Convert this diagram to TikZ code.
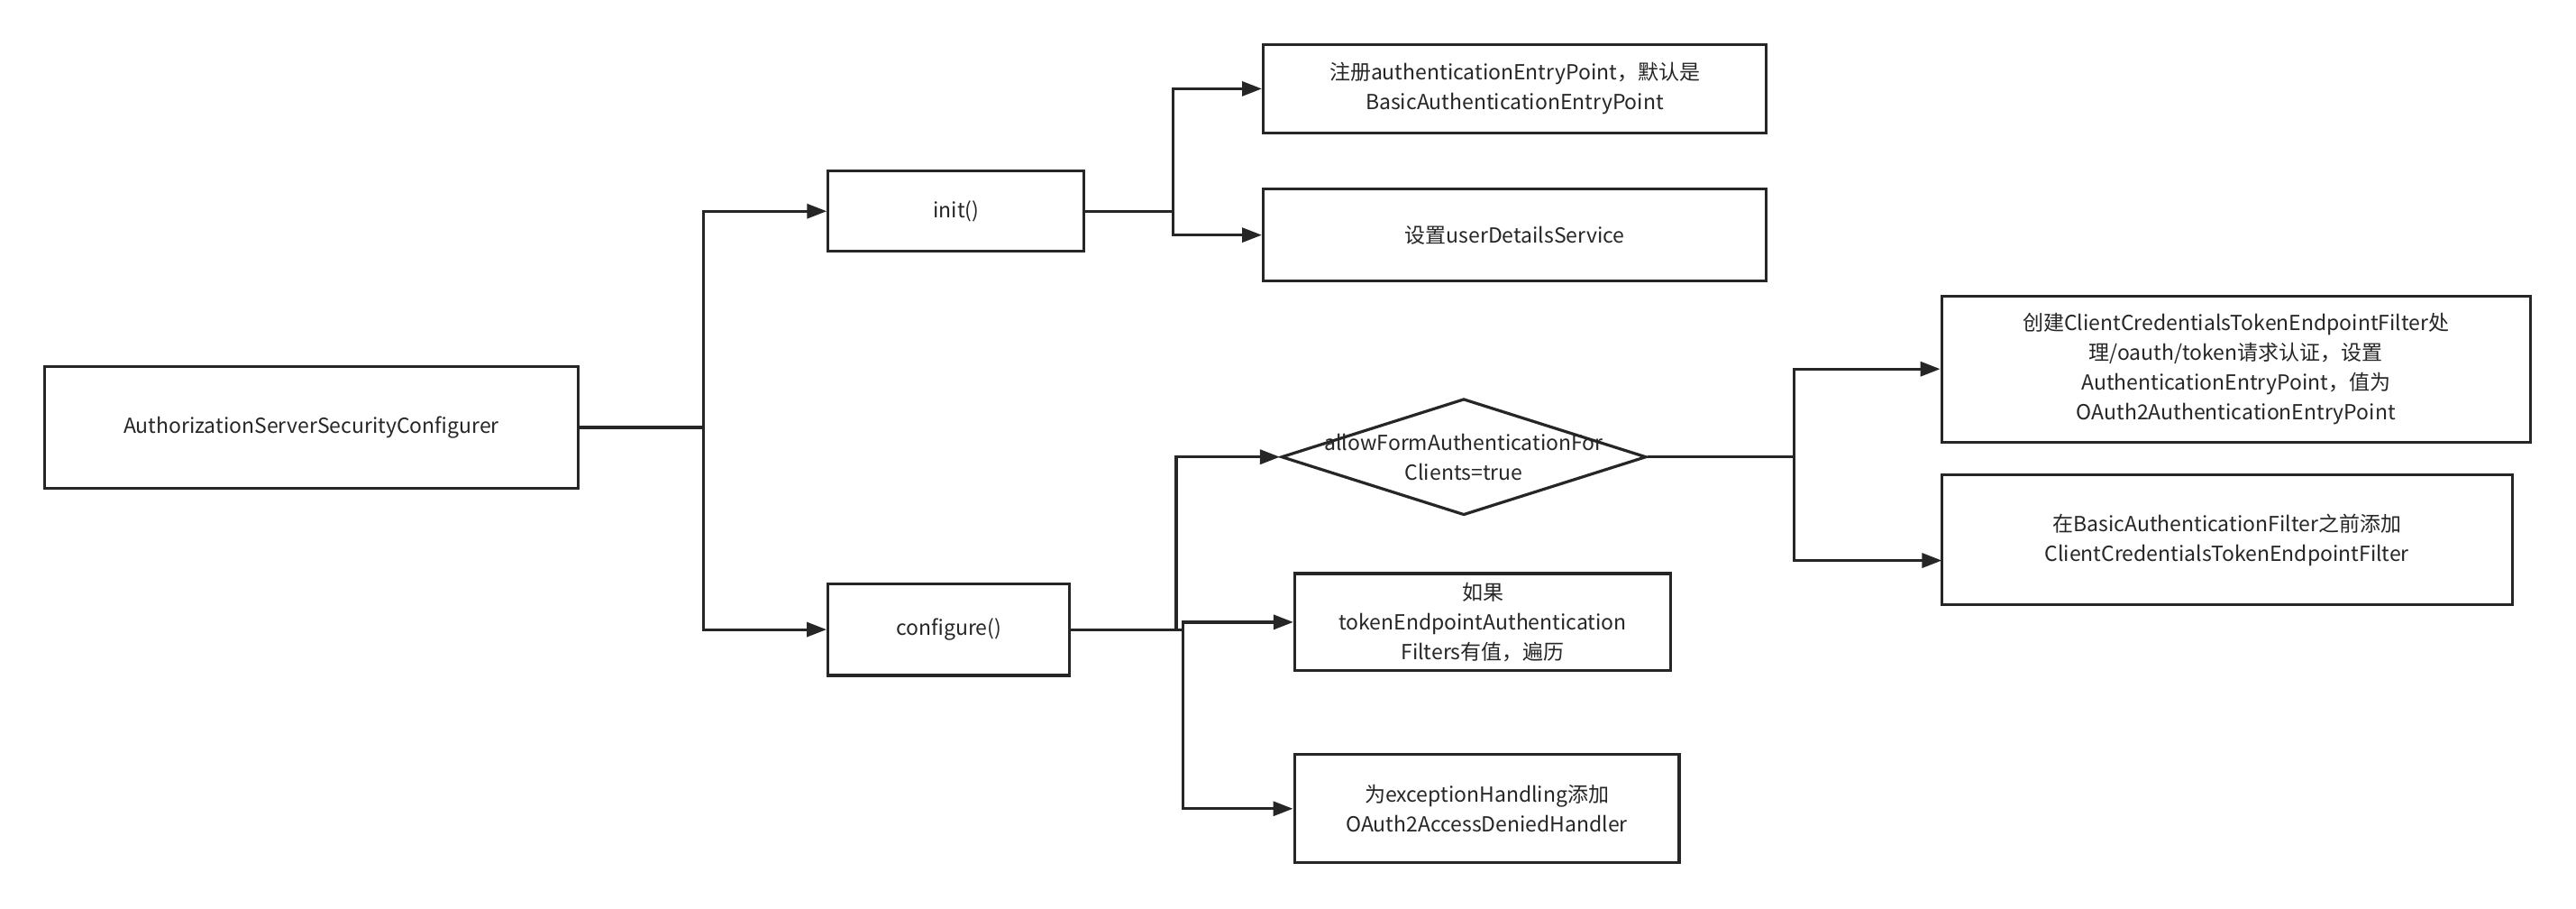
\documentclass[tikz,border=0pt]{standalone}
\usepackage{fontspec}
\setmainfont{Noto Sans CJK SC}
\usetikzlibrary{shapes.geometric,arrows.meta}
\begin{document}
\begin{tikzpicture}[x=1.823pt,y=-1.823pt,
  bx/.style={draw=black!85,line width=3.2pt,align=center,inner sep=0pt,font=\fontsize{23}{33}\selectfont,text=black!85},
  ar/.style={draw=black!85,line width=3.2pt,-{Triangle[length=22pt,width=16pt]}},
  ln/.style={draw=black!85,line width=3.2pt}]
\useasboundingbox[fill=white] (0,0) rectangle (1568,553);
\node[bx,minimum width=592pt,minimum height=135pt] (m) at (189.5,260) {AuthorizationServerSecurityConfigurer};
\node[bx,minimum width=284pt,minimum height=89pt] (i) at (582,128.5) {init()};
\node[bx,minimum width=268pt,minimum height=102pt] (c) at (577.5,383) {configure()};
\node[bx,minimum width=558pt,minimum height=98pt] (b1) at (922,54) {注册authenticationEntryPoint，默认是\\BasicAuthenticationEntryPoint};
\node[bx,minimum width=558pt,minimum height=102pt] (b2) at (922,143) {设置userDetailsService};
\node[draw=black!85,line width=3.2pt,diamond,inner sep=0pt,minimum width=405pt,minimum height=129pt] (d) at (891,278) {};
\node[align=center,font=\fontsize{23}{33}\selectfont,text=black!85] (dt) at (d.center) {allowFormAuthenticationFor\\Clients=true};
\node[bx,minimum width=417pt,minimum height=108pt] (b3) at (902.5,378.5) {如果\\tokenEndpointAuthentication\\Filters有值，遍历};
\node[bx,minimum width=427pt,minimum height=120pt] (b4) at (905,492) {为exceptionHandling添加\\OAuth2AccessDeniedHandler};
\node[bx,minimum width=653pt,minimum height=162pt] (b5) at (1361,224.5) {创建ClientCredentialsTokenEndpointFilter处\\理/oauth/token请求认证，设置\\AuthenticationEntryPoint，值为\\OAuth2AuthenticationEntryPoint};
\node[bx,minimum width=633pt,minimum height=144pt] (b6) at (1355.5,328.5) {在BasicAuthenticationFilter之前添加\\ClientCredentialsTokenEndpointFilter};
\coordinate (b6in) at (1182,341);
\draw[ar] (m.east) -- (428,260) |- (i.west);
\draw[ar] (m.east) -- (428,260) |- (c.west);
\draw[ar] (i.east) -- (714,128.5) |- (b1.west);
\draw[ar] (i.east) -- (714,128.5) |- (b2.west);
\draw[ar] (c.east) -- (716,383) |- (d.west);
\draw[ar] (c.east) -- (720,383) |- (b3.west);
\draw[ar] (c.east) -- (720,383) |- (b4.west);
\draw[ar] (d.east) -- (1092,278) |- (b5.west);
\draw[ar] (d.east) -- (1092,278) |- (b6in);
\end{tikzpicture}
\end{document}
